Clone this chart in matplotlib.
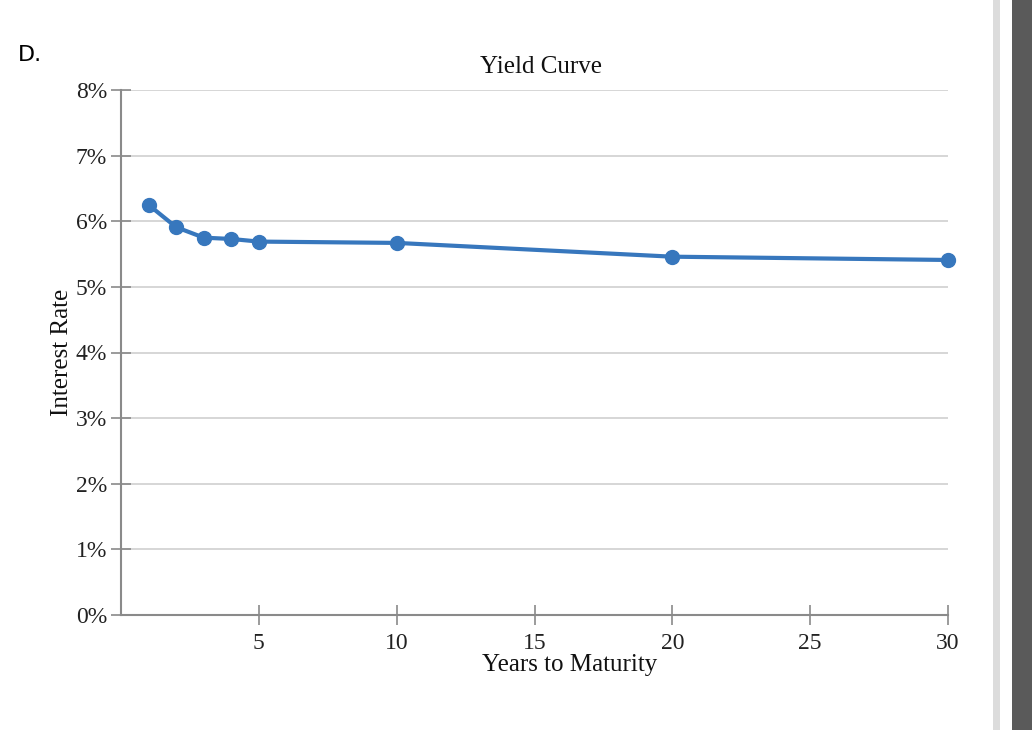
import matplotlib
matplotlib.use("Agg")
import matplotlib.pyplot as plt
from matplotlib.patches import Rectangle
from matplotlib.ticker import FuncFormatter

# Data
years = [1, 2, 3, 4, 5, 10, 20, 30]
rates = [6.25, 5.91, 5.75, 5.73, 5.69, 5.67, 5.46, 5.41]
x_ticks = [5, 10, 15, 20, 25, 30]
y_ticks = [0, 1, 2, 3, 4, 5, 6, 7, 8]

W, H = 1032, 730
fig = plt.figure(figsize=(W / 100, H / 100), dpi=100)
fig.patch.set_facecolor("white")

ax = fig.add_axes([121 / W, 1 - 615 / H, (948 - 121) / W, (615 - 90) / H])

serif = ["Liberation Serif", "DejaVu Serif"]
line_color = "#3777bd"
axis_color = "#8a8a8a"

ax.plot(years, rates, color=line_color, lw=3, marker="o", markersize=10,
        solid_capstyle="round", zorder=3, clip_on=False)

ax.set_xlim(0, 30)
ax.set_ylim(0, 8)
ax.set_xticks(x_ticks)
ax.set_yticks(y_ticks)
ax.yaxis.set_major_formatter(FuncFormatter(lambda v, p: f"{v:.0f}%"))

ax.grid(axis="y", color="#d0d0d0", lw=1.2, zorder=0)
ax.set_axisbelow(True)

for side in ["top", "right"]:
    ax.spines[side].set_visible(False)
for side in ["left", "bottom"]:
    ax.spines[side].set_color(axis_color)
    ax.spines[side].set_linewidth(1.5)

ax.tick_params(direction="inout", length=14, width=1.2, color=axis_color,
               labelcolor="#222222")
ax.tick_params(axis="x", pad=6)
ax.tick_params(axis="y", pad=3)
for lab in ax.get_xticklabels() + ax.get_yticklabels():
    lab.set_family(serif)
    lab.set_fontsize(17)

ax.set_xlabel("Years to Maturity", family=serif, fontsize=18, color="#111111")
ax.xaxis.set_label_coords(0.543, -0.075)
ax.set_ylabel("Interest Rate", family=serif, fontsize=18, color="#111111", labelpad=2)
title = ax.set_title("Yield Curve", family=serif, fontsize=18, color="#111111", pad=12)
title.set_x(0.508)

fig.text(18 / W, 1 - 55 / H, "D.", fontsize=16, family="DejaVu Sans", va="center")

# window edge on the right of the screenshot
fig.patches.append(Rectangle((993 / W, 0), 7 / W, 1, transform=fig.transFigure,
                             facecolor="#dcdcdc", edgecolor="none"))
fig.patches.append(Rectangle((1012 / W, 0), 20 / W, 1, transform=fig.transFigure,
                             facecolor="#5a5a5a", edgecolor="none"))

fig.savefig("out.png", dpi=100)
